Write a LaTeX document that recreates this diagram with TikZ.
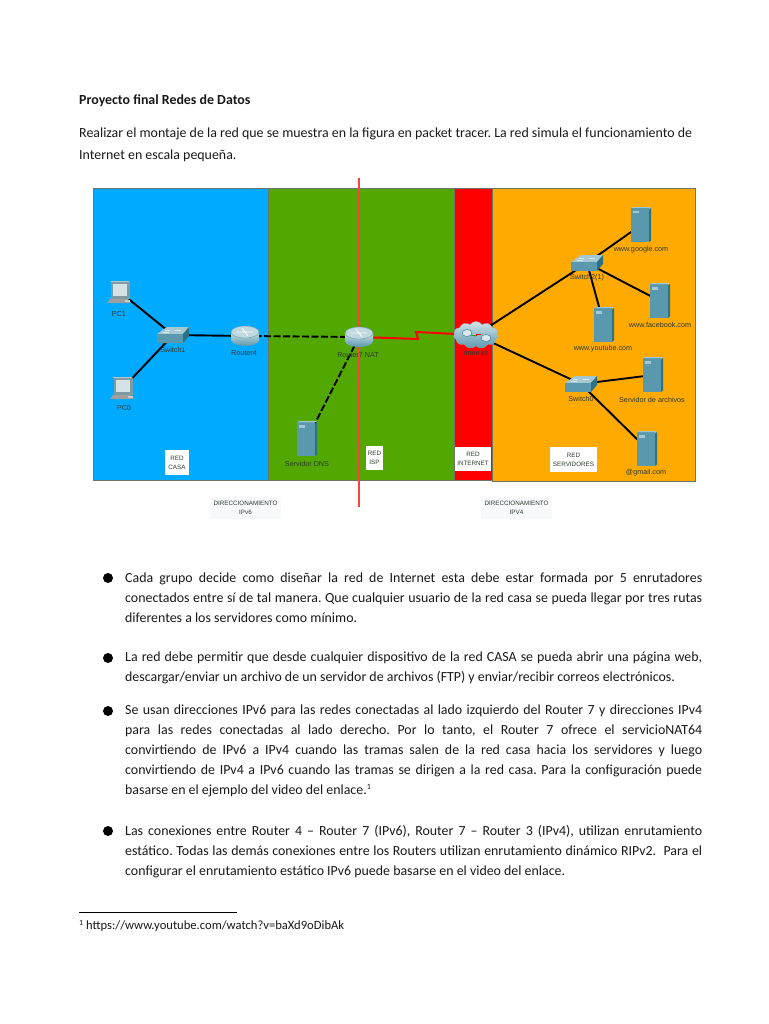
\documentclass[tikz,border=0pt]{standalone}
\usepackage{fontspec}
\setmainfont{Carlito}
\newfontfamily\lblfont{Liberation Sans}
\usetikzlibrary{shapes.symbols}
\frenchspacing
\definecolor{zblue}{HTML}{00AAFF}
\definecolor{zgreen}{HTML}{52A800}
\definecolor{zred}{HTML}{FF0000}
\definecolor{zdivider}{HTML}{FF4040}
\definecolor{zorange}{HTML}{FFAA00}
\definecolor{zframe}{HTML}{6E7468}
\definecolor{srvfront}{HTML}{5A98AE}
\definecolor{srvside}{HTML}{2A7288}
\definecolor{srvtop}{HTML}{A5C8D2}
\definecolor{pcframe}{HTML}{7F9AA3}
\definecolor{pcscreen}{HTML}{D5E2E6}
\definecolor{lbltext}{HTML}{2E3A2E}
\definecolor{boxfill}{HTML}{F8F9FD}
\tikzset{
  x=1pt,y=-1pt,
  panel/.style={draw=zframe,line width=0.8pt},
  devnode/.style={inner sep=0pt,minimum size=0pt,outer sep=0pt},
  linkline/.style={black,line width=1.9pt},
  dashlink/.style={black,line width=1.9pt,dash pattern=on 7pt off 2.5pt},
  seriallink/.style={zred,line width=2pt},
  devlabel/.style={font=\lblfont\fontsize{7.2}{8}\selectfont,text=lbltext,inner sep=0pt,align=center},
  netlabel/.style={font=\lblfont\fontsize{6.3}{9}\selectfont,text=lbltext,fill=white,inner sep=0pt,align=center},
  addrlabel/.style={font=\lblfont\fontsize{6.3}{9}\selectfont,text=lbltext,fill=boxfill,inner sep=0pt,align=center,minimum width=71pt,minimum height=22pt},
  para/.style={anchor=north west,inner sep=0pt,text width=577pt,align=justify,font=\fontsize{13.9}{20}\selectfont,text=black!90},
  plain/.style={anchor=base west,inner sep=0pt,font=\fontsize{13.9}{20}\selectfont,text=black!90},
  bulletdot/.style={circle,fill=black,inner sep=0pt,minimum size=10pt},
  srvicon/.pic={
    \fill[srvfront] (-10,-17) rectangle (8,17);
    \fill[srvside] (8,-15.5) -- (10,-17) -- (10,15.5) -- (8,17) -- cycle;
    \fill[srvtop] (-10,-17) -- (-8,-17.8) -- (10,-17.8) -- (8,-17) -- cycle;
    \fill[srvtop] (-8,-14) rectangle (-2,-11.5);
  },
  swicon/.pic={
    \fill[srvtop] (-16,-1) -- (-6,-8) -- (16,-8) -- (10,-1) -- cycle;
    \fill[srvfront] (-16,-1) rectangle (10,8);
    \fill[srvside] (10,-1) -- (16,-8) -- (16,1) -- (10,8) -- cycle;
    \draw[white,opacity=.6,line width=.4pt] (-8,-5) -- (-3,-5) (2,-5) -- (8,-5) (-10,-3) -- (-4,-3);
  },
  rticon/.pic={
    \shade[top color=srvtop!60!white,bottom color=srvfront] (-14,-4) -- (-14,4) arc[start angle=180,end angle=0,x radius=14,y radius=6] -- (14,-4) -- cycle;
    \fill[srvtop!70!white] (0,-4) ellipse[x radius=14,y radius=6];
    \draw[white,line width=.8pt] (-8,-4) -- (8,-4) (-3,-8) -- (3,0);
    \draw[srvside!70,line width=.4pt] (0,-4) ellipse[x radius=14,y radius=6];
  },
  pcicon/.pic={
    \fill[pcframe] (-9,-10) rectangle (10,7);
    \fill[pcframe!60!white] (-10,-11) -- (8,-11) -- (10,-10) -- (-9,-10) -- cycle;
    \fill[pcscreen] (-7,-8) rectangle (7,4);
    \fill[gray!75] (-10,7) -- (8,7) -- (11,11) -- (-13,11) -- cycle;
    \fill[gray!40] (5,7.5) rectangle (10,10);
  },
  cloudicon/.pic={
    \node[cloud,cloud puffs=11,cloud puff arc=110,aspect=1.7,minimum width=45pt,minimum height=27pt,inner sep=0pt,
      draw=srvside!50,line width=.3pt,top color=srvtop!50!white,bottom color=srvfront] (cl) at (0,0) {};
    \fill[srvtop!40!white,draw=srvside] (-9,-2) ellipse[x radius=5,y radius=3.5];
    \fill[srvtop!40!white,draw=srvside] (10,3) ellipse[x radius=5,y radius=3.5];
    \draw[green!70!black,line width=.8pt] (-5,0) -- (0,1);
    \draw[zred,line width=.8pt] (0,1) -- (0,-1) -- (5,-1);
  },
}
\begin{document}
\begin{tikzpicture}
\useasboundingbox (0,0) rectangle (768,1024);
\fill[white] (0,0) rectangle (768,1024);

% Heading
\node[plain,font=\fontsize{13.9}{20}\selectfont\bfseries] (title) at (79,105) {Proyecto final Redes de Datos};
\node[plain] (intro1) at (79,137.5) {Realizar el montaje de la red que se muestra en la figura en packet tracer. La red simula el funcionamiento de};
\node[plain] (intro2) at (79,159.5) {Internet en escala pequeña.};

% Panels
\fill[zblue] (93,188) rectangle (268,480);
\fill[zgreen] (268,188) rectangle (454,480);
\fill[zred] (454,188) rectangle (492,480);
\fill[zorange] (492,188) rectangle (695,481);
\draw[panel] (93,188) rectangle (268,480);
\draw[panel] (268,188) rectangle (454,480);
\draw[panel] (454,188) -- (454,480) -- (492,480);
\draw[panel] (454,188) -- (492,188);
\draw[panel] (492,188) rectangle (695,481);

% Device anchors
\node[devnode] (pc1) at (120,292) {};
\node[devnode] (pc0) at (123,388) {};
\node[devnode] (sw1) at (173,335) {};
\node[devnode] (r4) at (245,336) {};
\node[devnode] (r7) at (359,337) {};
\node[devnode] (dns) at (307,439) {};
\node[devnode] (inet) at (476,335) {};
\node[devnode] (sw2) at (587,263) {};
\node[devnode] (sw0) at (581,384) {};
\node[devnode] (google) at (641,225) {};
\node[devnode] (facebook) at (660,301) {};
\node[devnode] (youtube) at (604,325) {};
\node[devnode] (archivos) at (653,375) {};
\node[devnode] (gmail) at (647,449) {};
\coordinate (zz1) at (418,339);
\coordinate (zz2) at (416,332);
\coordinate (vtop) at (359,178);
\coordinate (vbot) at (359,507);

% Connectors
\draw[linkline] (pc1) -- (sw1);
\draw[linkline] (pc0) -- (sw1);
\draw[linkline] (sw1) -- (r4);
\draw[dashlink] (r4) -- (r7);
\draw[dashlink] (r7) -- (dns);
\draw[seriallink] (r7) -- (zz1) -- (zz2) -- (inet);
\draw[linkline] (inet) -- (sw2);
\draw[linkline] (inet) -- (sw0);
\draw[linkline] (sw2) -- (google);
\draw[linkline] (sw2) -- (facebook);
\draw[linkline] (sw2) -- (youtube);
\draw[linkline] (sw0) -- (archivos);
\draw[linkline] (sw0) -- (gmail);

% Red divider
\draw[draw=zdivider,line width=1.3pt] (vtop) -- (vbot);

% Icons
\pic at (pc1) {pcicon};
\pic at (pc0) {pcicon};
\pic at (sw1) {swicon};
\pic at (r4) {rticon};
\pic at (r7) {rticon};
\pic at (dns) {srvicon};
\pic at (inet) {cloudicon};
\pic at (sw2) {swicon};
\pic at (sw0) {swicon};
\pic at (google) {srvicon};
\pic at (facebook) {srvicon};
\pic at (youtube) {srvicon};
\pic at (archivos) {srvicon};
\pic at (gmail) {srvicon};

% Device labels
\node[devlabel] (lpc1) at (119,314) {PC1};
\node[devlabel] (lpc0) at (124,408) {PC0};
\node[devlabel] (lsw1) at (173,350) {Switch1};
\node[devlabel] (lr4) at (244,353) {Router4};
\node[devlabel] (lr7) at (358,355) {Router7 NAT};
\node[devlabel] (ldns) at (307,464) {Servidor DNS};
\node[devlabel] (linet) at (476,353) {internet};
\node[devlabel] (lsw2) at (587,278) {Switch2(1)};
\node[devlabel] (lsw0) at (581,399) {Switch0};
\node[devlabel] (lgoogle) at (641,250) {www.google.com};
\node[devlabel] (lfacebook) at (660,325) {www.facebook.com};
\node[devlabel] (lyoutube) at (603,349) {www.youtube.com};
\node[devlabel] (larchivos) at (652,400) {Servidor de archivos};
\node[devlabel] (lgmail) at (646,473) {@gmail.com};

% Network labels
\node[netlabel,minimum width=24pt,minimum height=25pt] (ncasa) at (177,462.5) {RED\\CASA};
\node[netlabel,minimum width=17pt,minimum height=24pt] (nisp) at (374.5,458) {RED\\ISP};
\node[netlabel,minimum width=36pt,minimum height=24pt] (ninternet) at (473,459) {RED\\INTERNET};
\node[netlabel,minimum width=47pt,minimum height=25pt] (nservidores) at (573.5,459.5) {RED\\SERVIDORES};
\node[addrlabel] (a6) at (245.5,508) {DIRECCIONAMIENTO\\IPv6};
\node[addrlabel] (a4) at (516.5,507.5) {DIRECCIONAMIENTO\\IPV4};

% Bullets
\node[bulletdot] (b1) at (108,578) {};
\node[bulletdot] (b2) at (108,658) {};
\node[bulletdot] (b3) at (108,711) {};
\node[bulletdot] (b4) at (108,831) {};

\node[para] (p1) at (125,573) {Cada grupo decide como diseñar la red de Internet esta debe estar formada por 5 enrutadores\linebreak conectados entre sí de tal manera. Que cualquier usuario de la red casa se pueda llegar por tres rutas\linebreak diferentes a los servidores como mínimo.};
\node[para] (p2) at (125,652) {La red debe permitir que desde cualquier dispositivo de la red CASA se pueda abrir una página web,\linebreak descargar/enviar un archivo de un servidor de archivos (FTP) y enviar/recibir correos electrónicos.};
\node[para] (p3) at (125,705) {Se usan direcciones IPv6 para las redes conectadas al lado izquierdo del Router 7 y direcciones IPv4\linebreak para las redes conectadas al lado derecho. Por lo tanto, el Router 7 ofrece el servicioNAT64\linebreak convirtiendo de IPv6 a IPv4 cuando las tramas salen de la red casa hacia los servidores y luego\linebreak convirtiendo de IPv4 a IPv6 cuando las tramas se dirigen a la red casa. Para la configuración puede\linebreak basarse en el ejemplo del video del enlace.{\fontsize{8}{8}\selectfont\raisebox{5pt}{1}}};
\node[para] (p4) at (125,825) {Las conexiones entre Router 4 – Router 7 (IPv6), Router 7 – Router 3 (IPv4), utilizan enrutamiento\linebreak estático. Todas las demás conexiones entre los Routers utilizan enrutamiento dinámico RIPv2.\ \ Para el\linebreak configurar el enrutamiento estático IPv6 puede basarse en el video del enlace.};

% Footnote
\coordinate (fa) at (79,912.5);
\coordinate (fb) at (237,912.5);
\draw[black,line width=1.2pt] (fa) -- (fb);
\node[plain,font=\fontsize{12.6}{15}\selectfont] (foot) at (79,929) {{\fontsize{8}{8}\selectfont\raisebox{4pt}{1}} https://www.youtube.com/watch?v=baXd9oDibAk};
\end{tikzpicture}
\end{document}
